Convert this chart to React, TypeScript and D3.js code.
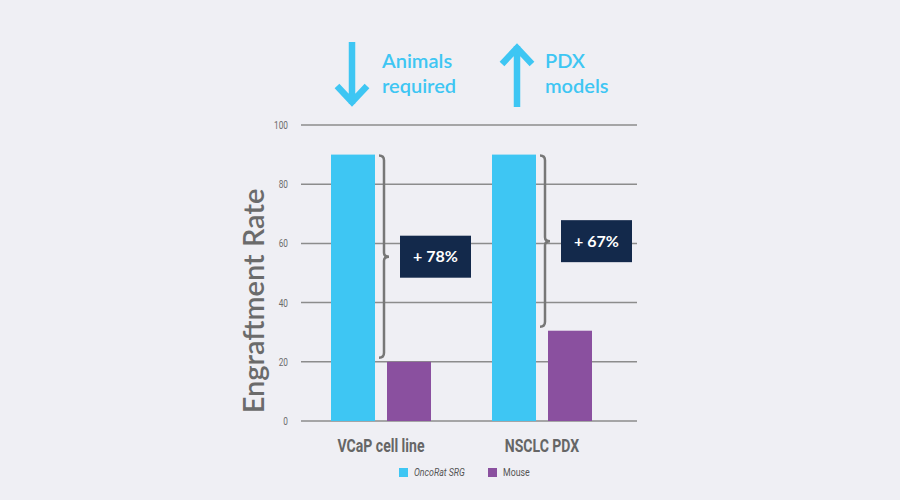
import React from 'react';
import * as d3 from 'd3';

// chart values
const categories = ['VCaP cell line', 'NSCLC PDX'];
const seriesNames = ['OncoRat SRG', 'Mouse'];
const oncoRatValues = [90, 90];
const mouseValues = [20, 30.5];
const gainLabels = ['+ 78%', '+ 67%'];
const yTicks = [0, 20, 40, 60, 80, 100];

const colors = ['#3ec6f3', '#8a509f'];
const navy = '#13294b';
const headerBlue = '#3ec6f3';

const W = 900;
const H = 500;
const narrowFont = "Roboto, 'Liberation Sans', sans-serif";

// condensed text: the original uses a narrow face which is not installed
const Narrow = ({ x, y, anchor = 'start', squeeze = 0.8, children, ...rest }: any) => (
  <text transform={`translate(${x},${y}) scale(${squeeze},1)`} textAnchor={anchor}
    fontFamily={narrowFont} {...rest}>{children}</text>
);

const App = () => {
  const y = d3.scaleLinear().domain([0, 100]).range([421, 125]);

  const x = d3.scaleBand()
    .domain(categories)
    .range([301, 622])
    .paddingInner(61 / 161)
    .paddingOuter(30 / 161);

  const xs = d3.scaleBand()
    .domain(seriesNames)
    .range([0, x.bandwidth()])
    .paddingInner(0.2143);

  const gridX0 = 301;
  const gridX1 = 637;

  const values = [oncoRatValues, mouseValues];

  // curly brace from top (y0) to bottom (y1), tip pointing right
  const bracePath = (bx: number, y0: number, y1: number) => {
    const mid = (y0 + y1) / 2;
    const r = 5;
    const tip = 5;
    return [
      `M${bx - r},${y0}`,
      `Q${bx},${y0} ${bx},${y0 + r}`,
      `L${bx},${mid - 4}`,
      `Q${bx},${mid} ${bx + tip},${mid}`,
      `Q${bx},${mid} ${bx},${mid + 4}`,
      `L${bx},${y1 - r}`,
      `Q${bx},${y1} ${bx - r},${y1}`,
    ].join(' ');
  };

  const arrowDown = (cx: number, top: number, tip: number) =>
    `M${cx},${top} L${cx},${tip - 3} M${cx - 15},${tip - 21} L${cx},${tip - 5} L${cx + 15},${tip - 21}`;
  const arrowUp = (cx: number, top: number, bottom: number) =>
    `M${cx},${bottom} L${cx},${top + 3} M${cx - 15},${top + 21} L${cx},${top + 5} L${cx + 15},${top + 21}`;

  const headText = { fill: headerBlue, fontFamily: 'Lato, sans-serif', fontWeight: 600, fontSize: 20 };

  return (
    <div>
      <style>{'body{margin:0;}'}</style>
      <svg width={W} height={H} style={{ display: 'block' }}>
        <rect x={0} y={0} width={W} height={H} fill="#efeff4" />

        {/* header arrows and text */}
        <path d={arrowDown(352, 42, 107)} stroke={headerBlue} strokeWidth={6.5} fill="none" />
        <text x={382} y={68} {...headText}>Animals</text>
        <text x={382} y={93} {...headText}>required</text>

        <path d={arrowUp(517, 43, 107)} stroke={headerBlue} strokeWidth={6.5} fill="none" />
        <text x={545} y={68} {...headText}>PDX</text>
        <text x={545} y={93} {...headText}>models</text>

        {/* grid + tick labels */}
        {yTicks.map((t) => (
          <g key={t}>
            <line x1={gridX0} x2={gridX1} y1={y(t)} y2={y(t)} stroke="#8c8c8c" strokeWidth={1.5} />
            <Narrow x={288} y={y(t) + 4} anchor="end" squeeze={0.75} fill="#6b6b6b" fontSize={11}>{t}</Narrow>
          </g>
        ))}

        <text transform={`translate(264,301) rotate(-90)`} textAnchor="middle" fill="#6b6b6b"
          fontFamily="Lato, sans-serif" fontWeight={600} fontSize={29}>Engraftment Rate</text>

        {/* bars */}
        {categories.map((c, i) => (
          <g key={c} transform={`translate(${x(c)},0)`}>
            {seriesNames.map((s, j) => (
              <rect key={s} x={xs(s)} width={xs.bandwidth()} y={y(values[j][i])}
                height={y(0) - y(values[j][i])} fill={colors[j]} />
            ))}
          </g>
        ))}

        {/* braces and gain boxes */}
        {categories.map((c, i) => {
          const bx = (x(c) ?? 0) + (xs('Mouse') ?? 0) - 3;
          const y0 = y(oncoRatValues[i]) + 1;
          const y1 = y(mouseValues[i]) - 4;
          const mid = (y0 + y1) / 2;
          const boxX = bx + 16;
          return (
            <g key={c}>
              <path d={bracePath(bx, y0, y1)} stroke="#777" strokeWidth={2.5} fill="none" />
              <rect x={boxX} y={mid - 21} width={71} height={42} fill={navy} />
              <text x={boxX + 35.5} y={mid + 5.5} textAnchor="middle" fill="#fff"
                fontFamily="Lato, sans-serif" fontWeight={700} fontSize={16}>{gainLabels[i]}</text>
            </g>
          );
        })}

        {/* category labels */}
        {categories.map((c) => (
          <Narrow key={c} x={(x(c) ?? 0) + x.bandwidth() / 2} y={452} anchor="middle" squeeze={0.78}
            fill="#666" fontWeight={700} fontSize={18}>{c}</Narrow>
        ))}

        {/* legend */}
        {seriesNames.map((s, j) => {
          const lx = j === 0 ? 399 : 488;
          return (
            <g key={s}>
              <rect x={lx} y={468} width={9} height={9} fill={colors[j]} />
              <Narrow x={lx + 15} y={476} squeeze={0.8} fill="#555"
                fontStyle={j === 0 ? 'italic' : 'normal'} fontSize={11}>{s}</Narrow>
            </g>
          );
        })}
      </svg>
    </div>
  );
};

export default App;
